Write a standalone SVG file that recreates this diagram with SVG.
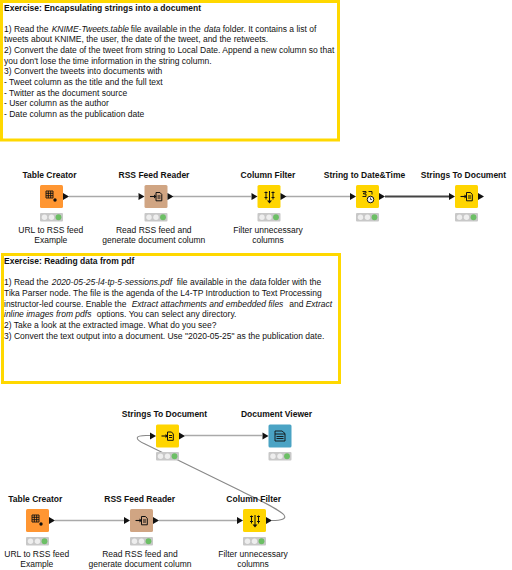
<svg xmlns="http://www.w3.org/2000/svg" width="512" height="570" viewBox="0 0 512 570">
<style>
text{font-family:"Liberation Sans",Arial,sans-serif;fill:#111}
.note{font-size:8.5px}
.nt{font-size:8.5px;font-weight:bold;text-anchor:middle}
.nl{font-size:8.5px;text-anchor:middle}
.i{font-style:italic}
.b{font-weight:bold}
.box{fill:#fff;stroke:#ffd800;stroke-width:3}
.c{fill:none;stroke:#aaa;stroke-width:1.6}
</style>
<defs>
<path id="p" d="M0-3.500L6 0L0 3.500Z" fill="#111"/>
<g id="tl"><rect width="23" height="8.500" rx="1" fill="#c8c8c8"/><circle cx="4.500" cy="4.250" r="2.700" fill="#eee"/><circle cx="11.500" cy="4.250" r="2.700" fill="#eee"/><circle cx="18.500" cy="4.250" r="2.900" fill="#6cbf65"/></g>
<g id="ports"><use href="#p" x="-6" y="11.500"/><use href="#p" x="23" y="11.500"/></g>
<g id="ic-table"><path d="M6 6h7v7h-7zM6 8.300h7M6 10.700h7M8.300 6v7M10.700 6v7" fill="none" stroke="#111" stroke-width=".9"/><circle cx="15" cy="15" r="1.700" fill="#111"/></g>
<g id="ic-doc"><path d="M5.500 11.500h5" stroke="#111" stroke-width="1.100"/><path d="M9.500 9.500l2.500 2-2.500 2z" fill="#111"/><path d="M11.500 7.500h4l1.800 2v6.300h-5.800zM13 11h3M13 13h3" fill="none" stroke="#111" stroke-width="1"/></g>
<g id="ic-filter"><path d="M7 7.500h3M7 12.500h3M14 7.500h3M14 12.500h3M8.500 6.500v8M15.500 6.500v8M12 6v11" fill="none" stroke="#111" stroke-width="1"/><path d="M9.500 15.500h5l-2.500 3z" fill="#111"/></g>
<g id="ic-date"><path d="M6.500 6.500h3.500v1.500h-2.500v1h2.500v2.500h-3.500M12.500 6.500h3.500v3" fill="none" stroke="#111" stroke-width=".9"/><circle cx="14.500" cy="14.500" r="3.300" fill="#eee" stroke="#111"/><path d="M14.500 12.500v2h1.500" fill="none" stroke="#111" stroke-width=".7"/></g>
<g id="ic-view"><path d="M6.500 6.500h7l3 2.500v7.500h-10zM6.500 9.500h10M8 12h7M8 14h7" fill="none" stroke="#111" stroke-width=".9"/></g>
</defs>

<g id="note1">
<rect class="box" x="1.500" y="1.500" width="337" height="138.500"/>
<text class="note b" x="4" y="11">Exercise: Encapsulating strings into a document</text>
<text class="note" x="4" y="31.500">1) Read the<tspan class="i" x="51.700">KNIME-Tweets.table</tspan><tspan x="130.700">file available in the</tspan><tspan class="i" x="204">data</tspan><tspan x="222.700">folder. It contains a list of</tspan></text>
<text class="note" x="4" y="42">tweets about KNIME, the user, the date of the tweet, and the retweets.</text>
<text class="note" x="4" y="53">2) Convert the date of the tweet from string to Local Date. Append a new column so that</text>
<text class="note" x="4" y="63.500">you don't lose the time information in the string column.</text>
<text class="note" x="4" y="74">3) Convert the tweets into documents with</text>
<text class="note" x="4" y="85">- Tweet column as the title and the full text</text>
<text class="note" x="4" y="95.500">- Twitter as the document source</text>
<text class="note" x="4" y="106">- User column as the author</text>
<text class="note" x="4" y="116.500">- Date column as the publication date</text>
</g>

<g id="note2">
<rect class="box" x="2.500" y="254.500" width="337" height="128"/>
<text class="note b" x="4" y="264">Exercise: Reading data from pdf</text>
<text class="note" x="4" y="285">1) Read the<tspan class="i" x="51.700">2020-05-25-l4-tp-5-sessions.pdf</tspan><tspan x="176.700">file available in the</tspan><tspan class="i" x="250">data</tspan><tspan x="268.300">folder with the</tspan></text>
<text class="note" x="4" y="296">Tika Parser node. The file is the agenda of the L4-TP Introduction to Text Processing</text>
<text class="note" x="4" y="306.500">instructor-led course. Enable the<tspan class="i" x="131.700">Extract attachments and embedded files</tspan><tspan x="289.300">and</tspan><tspan class="i" x="305.700">Extract</tspan></text>
<text class="note" x="4" y="317"><tspan class="i">inline images from pdfs</tspan><tspan x="96.700">options. You can select any directory.</tspan></text>
<text class="note" x="4" y="328">2) Take a look at the extracted image. What do you see?</text>
<text class="note" x="4" y="338.500">3) Convert the text output into a document. Use "2020-05-25" as the publication date.</text>
</g>

<g id="connectors">
<path class="c" d="M69 196.500H138"/>
<path class="c" d="M173 196.500H251"/>
<path class="c" d="M286 196.500H350"/>
<path fill="none" style="stroke:#444;stroke-width:2" d="M385 196.500H449"/>
<path class="c" d="M184.500 435.500H262"/>
<path fill="none" stroke="#888" stroke-width="1.100" d="M272 520.500C281 520.500 287 519 284 515C280 510 265 503 237 489L145 444C134 439 135 435.500 146 435.500H150"/>
<path class="c" d="M55 520.500H124"/>
<path class="c" d="M159 520.500H237"/>
</g>

<g id="n1"><text class="nt" x="49.500" y="178">Table Creator</text><rect x="40" y="185" width="23" height="23" rx="1.500" fill="#ff9632"/><use href="#ic-table" x="40" y="185"/><use href="#p" x="63" y="196.500"/><use href="#tl" x="40" y="213"/><text class="nl" x="50.800" y="232.500">URL to RSS feed</text><text class="nl" x="50.800" y="243">Example</text></g>
<g id="n2"><text class="nt" x="154" y="178">RSS Feed Reader</text><rect x="144.500" y="185" width="23" height="23" rx="1.500" fill="#d0a583"/><use href="#ic-doc" x="144.500" y="185"/><use href="#ports" x="144.500" y="185"/><use href="#tl" x="144.500" y="213"/><text class="nl" x="153.800" y="232.500">Read RSS feed and</text><text class="nl" x="153.800" y="243">generate document column</text></g>
<g id="n3"><text class="nt" x="268" y="178">Column Filter</text><rect x="257.500" y="185" width="23" height="23" rx="1.500" fill="#ffd500"/><use href="#ic-filter" x="257.500" y="185"/><use href="#ports" x="257.500" y="185"/><use href="#tl" x="257.500" y="213"/><text class="nl" x="268" y="232.500">Filter unnecessary</text><text class="nl" x="268" y="243">columns</text></g>
<g id="n4"><text class="nt" x="364.500" y="178">String to Date&amp;Time</text><rect x="356" y="185" width="23" height="23" rx="1.500" fill="#ffd500"/><use href="#ic-date" x="356" y="185"/><use href="#ports" x="356" y="185"/><use href="#tl" x="356" y="213"/></g>
<g id="n5"><text class="nt" x="463.500" y="178">Strings To Document</text><rect x="455" y="185" width="23" height="23" rx="1.500" fill="#ffd500"/><use href="#ic-doc" x="455" y="185"/><use href="#ports" x="455" y="185"/><use href="#tl" x="455" y="213"/></g>

<g id="n6"><text class="nt" x="164.500" y="417">Strings To Document</text><rect x="156" y="424.500" width="23" height="23" rx="1.500" fill="#ffd500"/><use href="#ic-doc" x="156" y="424.500"/><use href="#ports" x="156" y="424.500"/><use href="#tl" x="156" y="452"/></g>
<g id="n7"><text class="nt" x="276.500" y="417">Document Viewer</text><rect x="268.500" y="424.500" width="23" height="23" rx="1.500" fill="#4aa3c4"/><use href="#ic-view" x="268.500" y="424.500"/><use href="#p" x="262.500" y="436"/><use href="#tl" x="268.500" y="452"/></g>
<g id="n8"><text class="nt" x="35.300" y="502">Table Creator</text><rect x="26" y="509" width="23" height="23" rx="1.500" fill="#ff9632"/><use href="#ic-table" x="26" y="509"/><use href="#p" x="49" y="520.500"/><use href="#tl" x="26" y="537"/><text class="nl" x="36.800" y="556.500">URL to RSS feed</text><text class="nl" x="36.800" y="567">Example</text></g>
<g id="n9"><text class="nt" x="139.700" y="502">RSS Feed Reader</text><rect x="130" y="509" width="23" height="23" rx="1.500" fill="#d0a583"/><use href="#ic-doc" x="130" y="509"/><use href="#ports" x="130" y="509"/><use href="#tl" x="130" y="537"/><text class="nl" x="140" y="556.500">Read RSS feed and</text><text class="nl" x="140" y="567">generate document column</text></g>
<g id="n10"><text class="nt" x="253.700" y="502">Column Filter</text><rect x="243" y="509" width="23" height="23" rx="1.500" fill="#ffd500"/><use href="#ic-filter" x="243" y="509"/><use href="#ports" x="243" y="509"/><use href="#tl" x="243" y="537"/><text class="nl" x="253" y="556.500">Filter unnecessary</text><text class="nl" x="253" y="567">columns</text></g>
</svg>
